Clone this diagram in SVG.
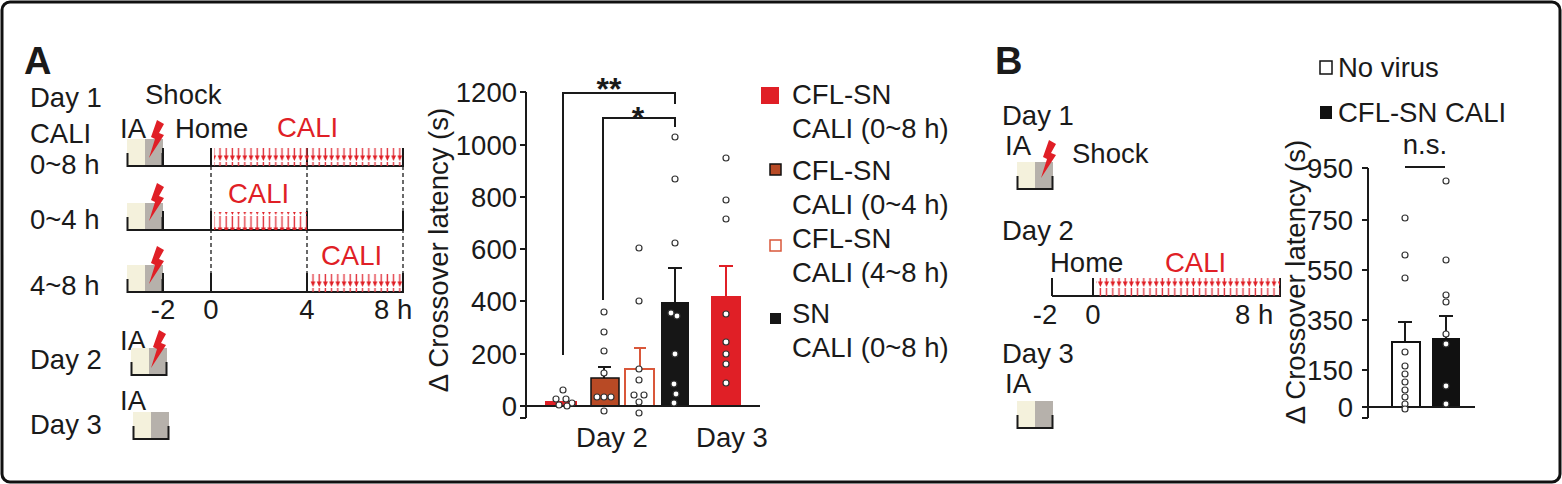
<svg xmlns="http://www.w3.org/2000/svg" width="1562" height="484" viewBox="0 0 1562 484">
<style>
text{font-family:"Liberation Sans",Arial,sans-serif;font-size:27.5px;fill:#1a1a1a}
.r{fill:#e01f26}
.e{text-anchor:end}
.m{text-anchor:middle}
.ln{stroke:#1a1a1a;stroke-width:2;fill:none}
.dash{stroke:#1a1a1a;stroke-width:1.3;stroke-dasharray:4,3;fill:none}
.dot{fill:#fff;stroke:#333;stroke-width:1.2}
.arr{fill:url(#arrows)}
</style>
<defs>
<pattern id="arrows" patternUnits="userSpaceOnUse" width="6.2" height="18">
<line x1="3" y1="0" x2="3" y2="13" stroke="#e23a44" stroke-width="1.4"/>
<path d="M0.6,11.5 L5.4,11.5 L3,17 Z" fill="#e01f26"/>
</pattern>
<path id="bolt" d="M9,0 L16,4 L11,13 L16,15 L1,38 L7,19 L3,17 Z" fill="#e01f26"/>
<g id="box">
<rect x="0" y="0" width="18" height="27" fill="#f4f1dc"/>
<rect x="18" y="0" width="18" height="27" fill="#b6b1ab"/>
<path d="M0.5,14 V27 H35.5 V14" class="ln"/>
</g>
</defs>
<rect x="2" y="2" width="1558" height="480" rx="8" fill="#fff" stroke="#111" stroke-width="3"/>

<g id="panelA-schematic">
<text x="24" y="74" style="font-size:38px;font-weight:bold">A</text>
<text x="30" y="107">Day 1</text>
<text x="145" y="104">Shock</text>
<text x="30" y="143">CALI</text>
<text x="30" y="174">0~8 h</text>
<text x="30" y="229">0~4 h</text>
<text x="30" y="295">4~8 h</text>
<text x="120" y="138">IA</text>
<text x="175" y="138">Home</text>
<text x="277" y="137" class="r">CALI</text>
<text x="228" y="203" class="r">CALI</text>
<text x="321" y="265" class="r">CALI</text>
<use href="#box" x="127" y="139"/>
<use href="#box" x="127" y="203"/>
<use href="#box" x="127" y="265"/>
<use href="#bolt" x="148" y="120"/>
<use href="#bolt" x="148" y="183"/>
<use href="#bolt" x="148" y="246"/>
<path class="ln" d="M128,166 H404 M163,148 V166 M211,148 V166 M307,148 V166 M403,148 V166"/>
<path class="ln" d="M128,230 H404 M163,211 V230 M211,211 V230 M307,211 V230 M403,211 V230"/>
<path class="ln" d="M128,292 H404 M163,273 V292 M211,273 V292 M307,273 V292 M403,273 V292"/>
<path class="dash" d="M211,166 V273 M307,166 V273 M403,166 V273"/>
<rect class="arr" x="214" y="148" width="190" height="18"/>
<rect class="arr" x="214" y="212" width="93" height="18"/>
<rect class="arr" x="310" y="274" width="93" height="18"/>
<text x="163" y="319" class="m">-2</text>
<text x="211" y="319" class="m">0</text>
<text x="307" y="319" class="m">4</text>
<text x="374" y="319">8 h</text>
<text x="30" y="369">Day 2</text>
<text x="120" y="350">IA</text>
<use href="#box" x="131" y="348"/>
<use href="#bolt" x="150" y="330"/>
<text x="30" y="434">Day 3</text>
<text x="120" y="410">IA</text>
<use href="#box" x="133" y="412"/>
</g>

<g id="panelA-chart">
<text transform="translate(448,250) rotate(-90)" class="m">Δ Crossover latency (s)</text>
<path class="ln" d="M526,92 V418 M520,92 H526 M520,145 H526 M520,197 H526 M520,249 H526 M520,301 H526 M520,354 H526 M520,406 H526 M520,418 H526"/>
<text x="517" y="102" class="e">1200</text>
<text x="517" y="155" class="e">1000</text>
<text x="517" y="207" class="e">800</text>
<text x="517" y="259" class="e">600</text>
<text x="517" y="311" class="e">400</text>
<text x="517" y="364" class="e">200</text>
<text x="517" y="416" class="e">0</text>
<rect x="545" y="401" width="32" height="5" fill="#e01f26"/>
<path class="ln" d="M604,378 V367 M598,367 H611"/>
<rect x="591" y="378" width="28" height="28" fill="#b84a25" stroke="#111" stroke-width="1.5"/>
<path d="M640,368 V348 M634,348 H646" stroke="#d9573a" stroke-width="2"/>
<rect x="625" y="369" width="29" height="37" fill="#fff" stroke="#d9573a" stroke-width="2"/>
<path class="ln" d="M675,302 V268 M668,268 H682"/>
<rect x="661" y="302" width="28" height="104" fill="#161616"/>
<path d="M726,296 V266 M719,266 H733" stroke="#e01f26" stroke-width="2"/>
<rect x="711" y="296" width="30" height="110" fill="#e01f26"/>
<path class="ln" d="M526,406 H760"/>
<path class="ln" d="M563,355 V93 H675 V104 M603,300 V118 H675 V127"/>
<text x="609" y="100" class="m" style="font-size:32px;font-weight:bold">**</text>
<text x="638" y="129" class="m" style="font-size:32px;font-weight:bold">*</text>
<g class="dots">
<circle class="dot" cx="563" cy="390" r="3"/><circle class="dot" cx="556" cy="399" r="3"/><circle class="dot" cx="566" cy="399" r="3"/><circle class="dot" cx="572" cy="403" r="3"/><circle class="dot" cx="559" cy="405" r="3"/><circle class="dot" cx="567" cy="406" r="3"/>
<circle class="dot" cx="604" cy="312" r="3"/><circle class="dot" cx="604" cy="332" r="3"/><circle class="dot" cx="604" cy="351" r="3"/><circle class="dot" cx="604" cy="373" r="3"/><circle class="dot" cx="597" cy="397" r="3"/><circle class="dot" cx="604" cy="397" r="3"/><circle class="dot" cx="611" cy="397" r="3"/><circle class="dot" cx="604" cy="411" r="3"/>
<circle class="dot" cx="639" cy="248" r="3"/><circle class="dot" cx="639" cy="301" r="3"/><circle class="dot" cx="639" cy="369" r="3"/><circle class="dot" cx="639" cy="380" r="3"/><circle class="dot" cx="634" cy="395" r="3"/><circle class="dot" cx="644" cy="395" r="3"/><circle class="dot" cx="639" cy="402" r="3"/><circle class="dot" cx="639" cy="413" r="3"/>
<circle class="dot" cx="675" cy="137" r="3"/><circle class="dot" cx="675" cy="179" r="3"/><circle class="dot" cx="675" cy="243" r="3"/><circle class="dot" cx="671" cy="313" r="3"/><circle class="dot" cx="677" cy="316" r="3"/><circle class="dot" cx="675" cy="354" r="3"/><circle class="dot" cx="674" cy="384" r="3"/><circle class="dot" cx="676" cy="394" r="3"/><circle class="dot" cx="674" cy="403" r="3"/>
<circle class="dot" cx="726" cy="158" r="3"/><circle class="dot" cx="726" cy="200" r="3"/><circle class="dot" cx="726" cy="219" r="3"/><circle class="dot" cx="726" cy="314" r="3"/><circle class="dot" cx="726" cy="342" r="3"/><circle class="dot" cx="726" cy="354" r="3"/><circle class="dot" cx="726" cy="364" r="3"/><circle class="dot" cx="726" cy="383" r="3"/>
</g>
<text x="612" y="447" class="m">Day 2</text>
<text x="732" y="447" class="m">Day 3</text>
</g>

<g id="panelA-legend">
<rect x="761" y="87" width="18" height="17" fill="#e01f26"/>
<rect x="770" y="164" width="11" height="11" fill="#b84a25" stroke="#111" stroke-width="1.5"/>
<rect x="770" y="240" width="11" height="11" fill="#fff" stroke="#d9573a" stroke-width="1.5"/>
<rect x="770" y="313" width="11" height="11" fill="#161616"/>
<text x="792" y="104">CFL-SN</text>
<text x="792" y="138">CALI (0~8 h)</text>
<text x="792" y="180">CFL-SN</text>
<text x="792" y="214">CALI (0~4 h)</text>
<text x="792" y="248">CFL-SN</text>
<text x="792" y="282">CALI (4~8 h)</text>
<text x="792" y="323">SN</text>
<text x="792" y="357">CALI (0~8 h)</text>
</g>

<g id="panelB-schematic">
<text x="995" y="74" style="font-size:38px;font-weight:bold">B</text>
<text x="1002" y="125">Day 1</text>
<text x="1005" y="155">IA</text>
<text x="1072" y="163">Shock</text>
<use href="#box" x="1017" y="162"/>
<use href="#bolt" x="1040" y="140"/>
<text x="1002" y="240">Day 2</text>
<text x="1050" y="272">Home</text>
<text x="1165" y="272" class="r">CALI</text>
<path class="ln" d="M1052,296 H1281 M1052,278 V296 M1093,278 V296 M1280,278 V296"/>
<rect class="arr" x="1096" y="278" width="184" height="18"/>
<text x="1045" y="324" class="m">-2</text>
<text x="1093" y="324" class="m">0</text>
<text x="1235" y="324">8 h</text>
<text x="1002" y="363">Day 3</text>
<text x="1005" y="393">IA</text>
<use href="#box" x="1017" y="401"/>
</g>

<g id="panelB-chart">
<rect x="1320" y="61" width="12" height="13" fill="#fff" stroke="#111" stroke-width="1.5"/>
<text x="1338" y="77">No virus</text>
<rect x="1320" y="106" width="12" height="13" fill="#111"/>
<text x="1338" y="122">CFL-SN CALI</text>
<text transform="translate(1305,282) rotate(-90)" class="m">Δ Crossover latency (s)</text>
<path class="ln" d="M1368,168 V418 M1362,168 H1368 M1362,220 H1368 M1362,270 H1368 M1362,320 H1368 M1362,370 H1368 M1362,407 H1368 M1362,418 H1368"/>
<text x="1353" y="178" class="e">950</text>
<text x="1353" y="230" class="e">750</text>
<text x="1353" y="280" class="e">550</text>
<text x="1353" y="330" class="e">350</text>
<text x="1353" y="380" class="e">150</text>
<text x="1353" y="417" class="e">0</text>
<text x="1425" y="154" class="m">n.s.</text>
<path class="ln" d="M1405,167 H1445"/>
<path class="ln" d="M1405,342 V322 M1398,322 H1412"/>
<rect x="1392" y="342" width="28" height="65" fill="#fff" stroke="#111" stroke-width="2"/>
<path class="ln" d="M1446,338 V316 M1439,316 H1453"/>
<rect x="1432" y="338" width="28" height="69" fill="#111"/>
<path class="ln" d="M1368,407 H1475"/>
<circle class="dot" cx="1405" cy="218" r="3"/><circle class="dot" cx="1405" cy="255" r="3"/><circle class="dot" cx="1405" cy="278" r="3"/><circle class="dot" cx="1405" cy="352" r="3"/><circle class="dot" cx="1405" cy="366" r="3"/><circle class="dot" cx="1405" cy="374" r="3"/><circle class="dot" cx="1405" cy="382" r="3"/><circle class="dot" cx="1405" cy="390" r="3"/><circle class="dot" cx="1405" cy="397" r="3"/><circle class="dot" cx="1405" cy="404" r="3"/><circle class="dot" cx="1405" cy="409" r="3"/>
<circle class="dot" cx="1446" cy="181" r="3"/><circle class="dot" cx="1446" cy="260" r="3"/><circle class="dot" cx="1446" cy="295" r="3"/><circle class="dot" cx="1446" cy="302" r="3"/><circle class="dot" cx="1446" cy="334" r="3"/><circle class="dot" cx="1446" cy="344" r="3"/><circle class="dot" cx="1446" cy="386" r="3"/><circle class="dot" cx="1446" cy="404" r="3"/>
</g>
</svg>
